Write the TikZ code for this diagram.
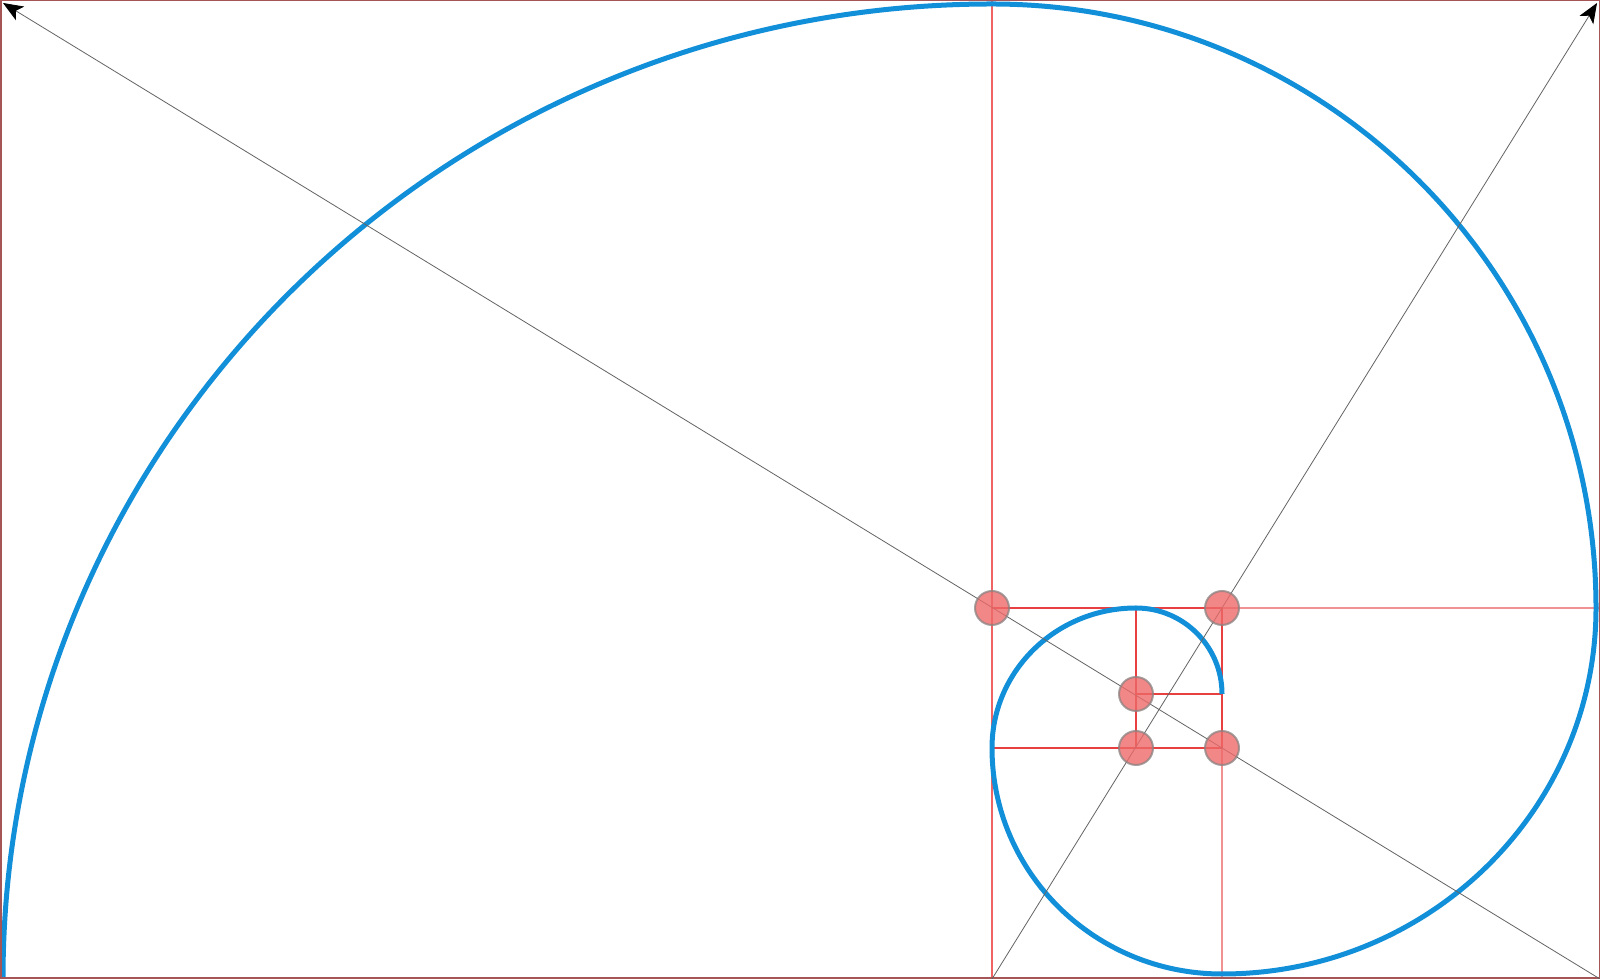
\documentclass[tikz,border=0pt]{standalone}
\usetikzlibrary{arrows.meta}
\definecolor{spiralblue}{RGB}{18,143,217}
\definecolor{guidered}{RGB}{232,64,64}
\definecolor{guidemid}{RGB}{238,100,100}
\definecolor{guidelight}{RGB}{242,145,145}
\definecolor{framecol}{RGB}{165,85,85}
\definecolor{dotfill}{RGB}{238,105,105}
\definecolor{dotedge}{RGB}{140,130,130}
\definecolor{diagcol}{RGB}{100,100,100}
\begin{document}
\begin{tikzpicture}[x=0.5pt,y=0.5pt,
  spiralline/.style={draw=spiralblue,line width=2.5pt},
  guide/.style={draw=guidered,line width=0.7pt},
  guidelong/.style={draw=guidemid,line width=0.7pt},
  guidefaint/.style={draw=guidelight,line width=0.7pt},
  diagline/.style={draw=diagcol,line width=0.4pt,-{Stealth[length=10pt,width=8pt,inset=2.5pt,color=black]}},
  dotnode/.style={circle,fill=dotfill,fill opacity=0.8,draw=dotedge,draw opacity=0.75,line width=1pt,minimum size=17pt,inner sep=0pt}]
\useasboundingbox (0,0) rectangle (1600,979);
\fill[white] (0,0) rectangle (1600,979);
% corners
\coordinate (bl) at (0,0);
\coordinate (tl) at (0,979);
\coordinate (tr) at (1600,979);
\coordinate (br) at (1600,0);
\coordinate (vtop) at (992,979);
\coordinate (vbot) at (992,0);
\coordinate (rmid) at (1600,371);
\coordinate (sbot) at (1222,0);
% guide lines
\draw[guidelong] (vtop) -- (vbot);
\draw[guidefaint] (992,371) -- (rmid);
\draw[guide] (992,371) -- (1222,371);
\draw[guidefaint] (1222,371) -- (sbot);
\draw[guide] (1222,371) -- (1222,231);
\draw[guide] (992,231) -- (1222,231);
\draw[guide] (1136,371) -- (1136,231);
\draw[guide] (1136,285) -- (1222,285);
% spiral
\draw[spiralline] (3,0)
  arc[start angle=180,end angle=90,x radius=989,y radius=975]
  arc[start angle=90,end angle=0,radius=604]
  arc[start angle=0,end angle=-90,x radius=374,y radius=366]
  arc[start angle=-90,end angle=-180,x radius=230,y radius=226]
  arc[start angle=180,end angle=90,x radius=144,y radius=140]
  arc[start angle=90,end angle=0,radius=86];
% frame
\draw[framecol,line width=1pt] (0.5,0.5) rectangle (1599.5,978.5);
% diagonals
\draw[diagline] (br) -- ([shift={(3,-3)}]tl);
\draw[diagline] (vbot) -- ([shift={(-3,-3)}]tr);
% dots
\node[dotnode] (d1) at (992,371) {};
\node[dotnode] (d2) at (1222,371) {};
\node[dotnode] (d3) at (1136,285) {};
\node[dotnode] (d4) at (1136,231) {};
\node[dotnode] (d5) at (1222,231) {};
\end{tikzpicture}
\end{document}
